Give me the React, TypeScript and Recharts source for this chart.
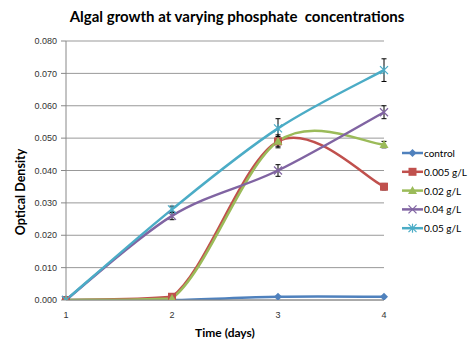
import { LineChart, Line, XAxis, YAxis, CartesianGrid, ErrorBar, Label } from 'recharts'

const days = [1, 2, 3, 4]
const control = [0, 0, 0.001, 0.001]
const conc005 = [0, 0.001, 0.049, 0.035]
const conc02 = [0, 0.0005, 0.049, 0.048]
const conc04 = [0, 0.026, 0.04, 0.058]
const conc05 = [0, 0.028, 0.053, 0.071]

const err005 = [0, 0, 0.0015, 0.001]
const err02 = [0, 0, 0.002, 0.001]
const err04 = [0, 0.0012, 0.0018, 0.002]
const err05 = [0, 0.001, 0.003, 0.0035]

const yTicks = [0, 0.01, 0.02, 0.03, 0.04, 0.05, 0.06, 0.07, 0.08]

type MarkerKind = 'diamond' | 'square' | 'triangle' | 'x' | 'star'

const SERIES: { key: string; name: string; color: string; marker: MarkerKind; values: number[]; errors?: number[] }[] = [
  { key: 'control', name: 'control', color: '#4F81BD', marker: 'diamond', values: control },
  { key: 'c005', name: '0.005 g/L', color: '#C0504D', marker: 'square', values: conc005, errors: err005 },
  { key: 'c02', name: '0.02 g/L', color: '#9BBB59', marker: 'triangle', values: conc02, errors: err02 },
  { key: 'c04', name: '0.04 g/L', color: '#8064A2', marker: 'x', values: conc04, errors: err04 },
  { key: 'c05', name: '0.05 g/L', color: '#4BACC6', marker: 'star', values: conc05, errors: err05 },
]

const rows = days.map((day, i) => {
  const row: Record<string, number> = { day }
  for (const s of SERIES) {
    row[s.key] = s.values[i]
    if (s.errors) row[s.key + '_err'] = s.errors[i]
  }
  return row
})

// Excel-like smoothed line: cardinal bezier, but never dipping below the lowest point
function excelCurve(context: any) {
  let pts: [number, number][] = []
  return {
    areaStart() {},
    areaEnd() {},
    lineStart() { pts = [] },
    lineEnd() {
      const n = pts.length
      if (!n) return
      const maxY = Math.max(...pts.map(p => p[1]))
      const clamp = (y: number) => Math.min(y, maxY)
      context.moveTo(pts[0][0], pts[0][1])
      for (let i = 0; i < n - 1; i++) {
        const p0 = pts[Math.max(i - 1, 0)]
        const p1 = pts[i]
        const p2 = pts[i + 1]
        const p3 = pts[Math.min(i + 2, n - 1)]
        const t = 1 / 6
        context.bezierCurveTo(
          p1[0] + (p2[0] - p0[0]) * t, clamp(p1[1] + (p2[1] - p0[1]) * t),
          p2[0] - (p3[0] - p1[0]) * t, clamp(p2[1] - (p3[1] - p1[1]) * t),
          p2[0], p2[1],
        )
      }
    },
    point(x: number, y: number) { pts.push([+x, +y]) },
  }
}

function Marker({ kind, cx, cy, color }: { kind: MarkerKind; cx: number; cy: number; color: string }) {
  switch (kind) {
    case 'diamond':
      return <path d={`M${cx},${cy - 4}L${cx + 4},${cy}L${cx},${cy + 4}L${cx - 4},${cy}Z`} fill={color} />
    case 'square':
      return <rect x={cx - 4} y={cy - 4} width={8} height={8} fill={color} />
    case 'triangle':
      return <path d={`M${cx},${cy - 4.5}L${cx + 4.5},${cy + 3.5}L${cx - 4.5},${cy + 3.5}Z`} fill={color} />
    case 'x':
      return (
        <g stroke={color} strokeWidth={1.2}>
          <line x1={cx - 4} y1={cy - 4} x2={cx + 4} y2={cy + 4} />
          <line x1={cx - 4} y1={cy + 4} x2={cx + 4} y2={cy - 4} />
        </g>
      )
    default:
      return (
        <g stroke={color} strokeWidth={1.2}>
          <line x1={cx - 4} y1={cy - 4} x2={cx + 4} y2={cy + 4} />
          <line x1={cx - 4} y1={cy + 4} x2={cx + 4} y2={cy - 4} />
          <line x1={cx} y1={cy - 4.5} x2={cx} y2={cy + 4.5} />
        </g>
      )
  }
}

const TEXT_FONT = 'Lato, "Open Sans", sans-serif'

export default function App() {
  return (
    <div style={{ position: 'absolute', left: 0, top: 0, width: 474, height: 353, background: '#fff' }}>
      <div
        style={{
          position: 'absolute', left: 0, top: 7, width: 474, textAlign: 'center',
          fontFamily: TEXT_FONT, fontWeight: 700, fontSize: 15, color: '#000', whiteSpace: 'pre',
        }}
      >
        Algal growth at varying phosphate  concentrations
      </div>
      <LineChart width={474} height={353} data={rows} margin={{ top: 41, right: 90, bottom: 13, left: 0 }}>
        <CartesianGrid vertical={false} stroke="#999" />
        <XAxis
          type="number"
          dataKey="day"
          domain={[1, 4]}
          ticks={days}
          height={40}
          axisLine={{ stroke: '#888' }}
          tickLine={false}
          tickSize={6}
          tickMargin={6}
          tick={{ fontSize: 9, fill: '#333', fontFamily: 'Liberation Sans, Arial, sans-serif' }}
        >
          <Label
            content={() => (
              <text x={225} y={337} textAnchor="middle" fontFamily={TEXT_FONT} fontWeight={700} fontSize={12} fill="#000">
                Time (days)
              </text>
            )}
          />
        </XAxis>
        <YAxis
          domain={[0, 0.08]}
          ticks={yTicks}
          width={66}
          allowDataOverflow
          axisLine={{ stroke: '#888' }}
          tickLine={{ stroke: '#888' }}
          tickSize={5}
          tickMargin={4}
          tickFormatter={(v: number) => v.toFixed(3)}
          tick={{ fontSize: 9, fill: '#333', fontFamily: 'Liberation Sans, Arial, sans-serif' }}
        >
          <Label
            content={() => (
              <text
                transform="translate(25,192) rotate(-90)"
                textAnchor="middle"
                fontFamily={TEXT_FONT}
                fontWeight={700}
                fontSize={12.5}
                fill="#000"
              >
                Optical Density
              </text>
            )}
          />
        </YAxis>
        {SERIES.map(s => (
          <Line
            key={s.key}
            dataKey={s.key}
            name={s.name}
            type={excelCurve as any}
            stroke={s.color}
            strokeWidth={2.5}
            isAnimationActive={false}
            dot={(p: any) => <Marker key={`${s.key}-${p.index}`} kind={s.marker} cx={p.cx} cy={p.cy} color={s.color} />}
            activeDot={false}
          >
            {s.errors && (
              <ErrorBar dataKey={s.key + '_err'} width={2.5} stroke="#000" strokeWidth={1} isAnimationActive={false} />
            )}
          </Line>
        ))}
      </LineChart>
      <svg style={{ position: 'absolute', left: 398, top: 140 }} width={76} height={100}>
        {SERIES.map((s, i) => {
          const y = 13 + i * 18.8
          return (
            <g key={s.key}>
              <line x1={4} x2={25} y1={y} y2={y} stroke={s.color} strokeWidth={2.5} />
              <Marker kind={s.marker} cx={14.5} cy={y} color={s.color} />
              <text x={26} y={y} dominantBaseline="central" fontFamily={TEXT_FONT} fontSize={10} fill="#000">
                {s.name}
              </text>
            </g>
          )
        })}
      </svg>
    </div>
  )
}
